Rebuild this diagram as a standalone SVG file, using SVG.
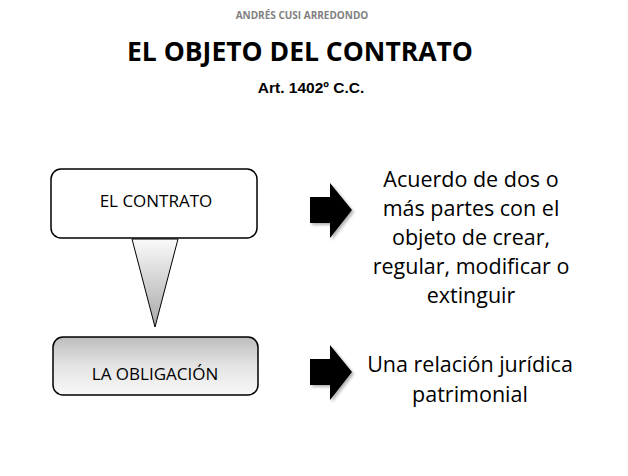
<svg xmlns="http://www.w3.org/2000/svg" width="628" height="476" viewBox="0 0 628 476">
<defs>
<linearGradient id="g1" x1="0" y1="0" x2="0" y2="1"><stop offset="0" stop-color="#ffffff"/><stop offset="1" stop-color="#ffffff"/></linearGradient>
<linearGradient id="g2" x1="0" y1="0" x2="0" y2="1"><stop offset="0" stop-color="#bdbdbd"/><stop offset="0.5" stop-color="#e4e4e4"/><stop offset="1" stop-color="#f8f8f8"/></linearGradient>
<linearGradient id="g3" x1="0" y1="0" x2="0" y2="1"><stop offset="0" stop-color="#fafafa"/><stop offset="1" stop-color="#a8a8a8"/></linearGradient>
<filter id="sh" x="-20%" y="-20%" width="150%" height="150%"><feDropShadow dx="2" dy="2" stdDeviation="1.5" flood-color="#000" flood-opacity="0.3"/></filter>
</defs>
<style>
text{font-family:"Open Sans","Liberation Sans",sans-serif;fill:#000}
.box{stroke:#000;stroke-width:1.5}
.lbl{font-size:17px;text-anchor:middle}
.desc{font-size:21.5px;text-anchor:middle}
</style>
<rect width="628" height="476" fill="#fff"/>
<text x="302" y="19" font-size="10" font-weight="bold" text-anchor="middle" style="fill:#7f7f7f">ANDRÉS CUSI ARREDONDO</text>
<text x="300" y="61" font-size="26.5" font-weight="bold" text-anchor="middle">EL OBJETO DEL CONTRATO</text>
<text x="311" y="93" font-size="15.5" font-weight="bold" text-anchor="middle" style="font-family:'Liberation Sans',sans-serif">Art. 1402º C.C.</text>
<g id="connectors">
<polygon points="132,239 178,239 155,327" fill="url(#g3)" stroke="#000" stroke-width="1"/>
</g>
<g id="n1"><rect class="box" x="51" y="169" width="206" height="69" rx="10" fill="url(#g1)"/><text class="lbl" x="156" y="207">EL CONTRATO</text></g>
<g id="n2"><rect class="box" x="53" y="337" width="205" height="58" rx="10" fill="url(#g2)"/><text class="lbl" x="155" y="380">LA OBLIGACIÓN</text></g>
<g id="a1" filter="url(#sh)"><polygon points="310,197 330,197 330,183 352,210 330,238 330,223 310,223" fill="#000"/></g>
<g id="a2" filter="url(#sh)"><polygon points="310,359 330,359 330,345 352,372 330,400 330,385 310,385" fill="#000"/></g>
<g id="d1"><text class="desc"><tspan x="471" y="187">Acuerdo de dos o</tspan><tspan x="471" y="216">más partes con el</tspan><tspan x="471" y="245">objeto de crear,</tspan><tspan x="471" y="274">regular, modificar o</tspan><tspan x="471" y="303">extinguir</tspan></text></g>
<g id="d2"><text class="desc"><tspan x="470" y="372">Una relación jurídica</tspan><tspan x="470" y="402">patrimonial</tspan></text></g>
</svg>
